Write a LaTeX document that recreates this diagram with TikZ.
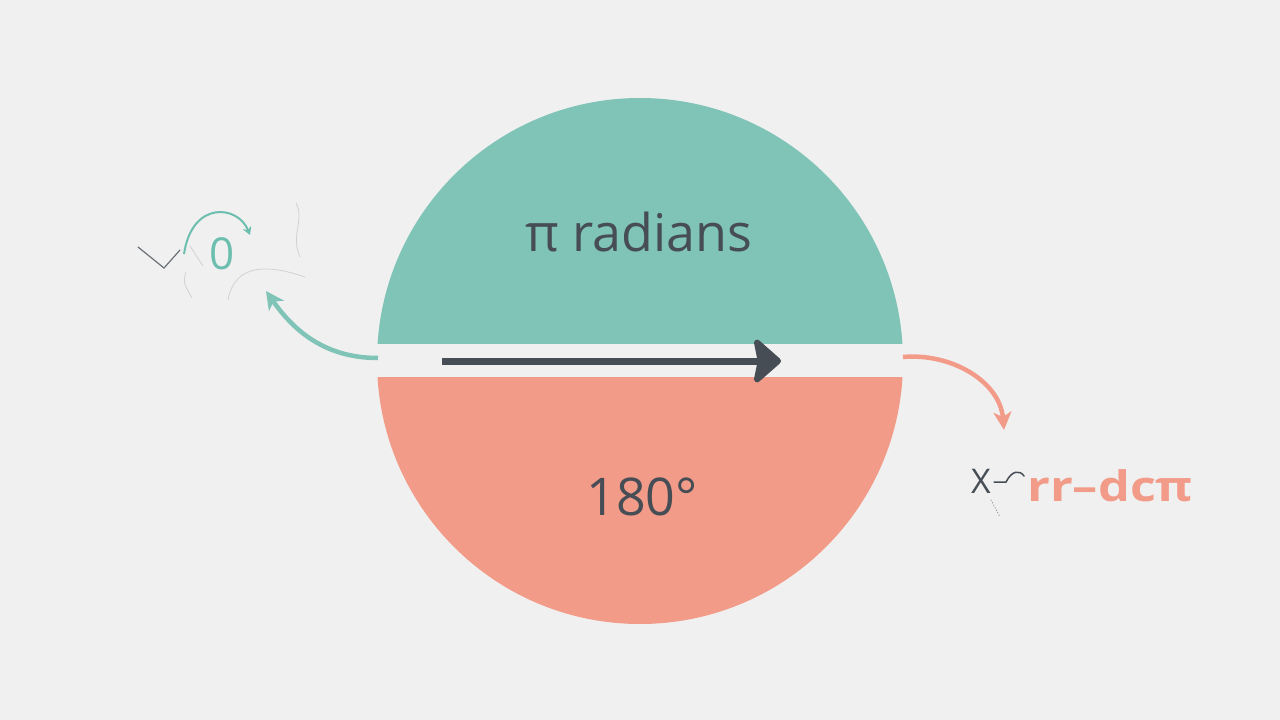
\documentclass[tikz,border=0pt]{standalone}
\usepackage{fontspec}
\setmainfont{Open Sans}
\usetikzlibrary{arrows.meta,positioning}
\definecolor{bggray}{HTML}{F0F0F0}
\definecolor{halfteal}{HTML}{80C4B8}
\definecolor{halfsalmon}{HTML}{F29B89}
\definecolor{inkgray}{HTML}{464D55}
\definecolor{tealink}{HTML}{6CBFAE}

\begin{document}
\begin{tikzpicture}[
    x=1pt, y=-1pt,
    every node/.style={inner sep=0pt},
    bigtext/.style={font=\fontsize{52}{56}\selectfont, text=inkgray},
    sidearr/.style={-{Stealth[length=18pt, width=18pt, inset=5pt]}, line width=4.5pt, color=#1},
    scribble/.style={line width=0.8pt, color=inkgray!25, line cap=round},
]

\useasboundingbox[fill=bggray] (0,0) rectangle (1280,720);

% === Disc split in two halves ===
\node[circle, minimum size=526pt] (disc) at (640,361) {};
\begin{scope}
    \clip (disc.center) circle (263pt);
    \fill[halfteal] (370,90) rectangle (910,344);
    \fill[halfsalmon] (370,377) rectangle (910,630);
\end{scope}

\node[bigtext] (rad) at (639,232) {π radians};
\node[bigtext] (deg) at (642,497) {180°};

% Middle arrow
\coordinate (mstart) at (442,361);
\coordinate (mtip) at (781,361);
\draw[line width=7pt, color=inkgray,
    -{Stealth[length=30pt, width=52pt, inset=5pt, round]}] (mstart) -- (mtip);

% === Left: zero ===
\coordinate (lstart) at (378,358);
\coordinate (ltip) at (266,291);
\draw[sidearr=halfteal] (lstart) to[out=180, in=-55] (ltip);

\node[font=\fontsize{44}{48}\selectfont, text=tealink] (zero) at (222,254) {0};
\coordinate (zarc1) at (184,254);
\coordinate (zarc2) at (250,235);
\draw[line width=2pt, color=tealink, -{Stealth[length=8pt, width=9pt]}]
    (zarc1) .. controls (192,200) and (238,205) .. (zarc2);
\draw[line width=1.2pt, color=inkgray!80, line cap=round]
    (138,247) -- (164,268) -- (180,250);
\draw[scribble] (190,246) -- (203,266);
\draw[scribble] (186,272) .. controls (183,282) .. (192,298);
\draw[scribble] (228,300) .. controls (235,262) and (270,265) .. (305,277);
\draw[scribble] (296,203) .. controls (305,220) and (290,235) .. (300,257);

% === Right: radian ===
\coordinate (rstart) at (903,357);
\coordinate (rtip) at (1004,430);
\draw[sidearr=halfsalmon] (rstart) to[out=5, in=95] (rtip);

\node[font=\fontsize{34}{36}\selectfont, text=inkgray] (ex) at (981,481) {X};
\draw[line width=1.5pt, color=inkgray, line cap=round]
    (ex.east) ++(3,1) -- ++(12,0) .. controls (1012,470) and (1020,470) .. (1024,476);
\draw[scribble, dotted, color=inkgray!60] (991,500) -- (1000,517);
\node[font=\fontsize{42}{46}\selectfont\bfseries, text=halfsalmon, anchor=west] (rword) at (1027,486)
    {\scalebox{1.2}[1]{rr–dcπ}};

\end{tikzpicture}
\end{document}
